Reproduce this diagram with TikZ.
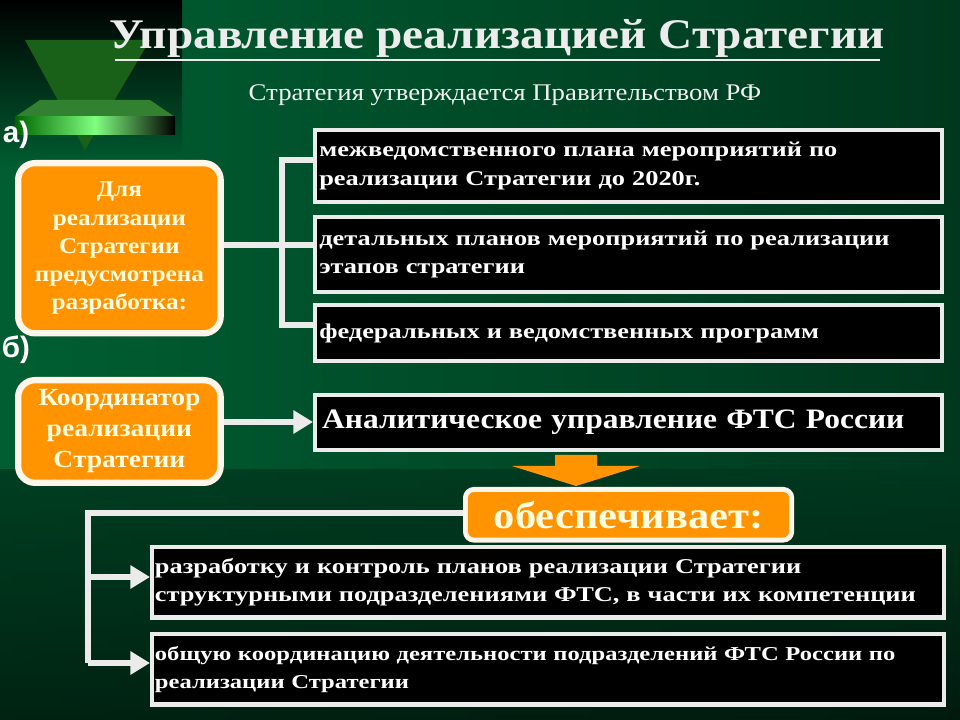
\documentclass[tikz,border=0pt]{standalone}
\usepackage{fontspec}
\usetikzlibrary{arrows.meta}
\setmainfont{Liberation Serif}
\newfontfamily\lsans{Liberation Sans}
\newfontfamily\wideA[FakeStretch=1.25]{Liberation Serif}
\newfontfamily\wideB[FakeStretch=1.12]{Liberation Serif}
\definecolor{bgA}{RGB}{0,95,50}
\definecolor{bgB}{RGB}{0,55,30}
\definecolor{bgC}{RGB}{0,20,10}
\begin{document}
\begin{tikzpicture}[x=0.025cm,y=-0.025cm,
  orbox/.style={draw=white!92!orange,line width=4.5pt,fill=orange!85!yellow,rounded corners=12pt,text=white!88!yellow,font=\wideB\bfseries\fontsize{16}{20}\selectfont,align=center,anchor=north west,inner sep=0pt},
  bkbox/.style={draw=white!92!black,line width=3pt,fill=black,text=white,font=\wideA\bfseries\fontsize{15}{20}\selectfont,align=left,anchor=north west,inner sep=0pt,text width=#1},
  conn/.style={draw=white!92!black,line width=4pt},
  arr/.style={conn,-{Triangle[length=14pt,width=16pt]}}]
\useasboundingbox (0,0) rectangle (960,720);
% background
\shade[left color=bgA,right color=bgB] (0,0) rectangle (960,720);
\shade[top color=black,bottom color=bgA] (0,0) rectangle (182,170);
\shade[top color=bgB,bottom color=bgC,opacity=0.8] (0,470) rectangle (960,720);
% decoration
\fill[green!35!black!80!gray] (25,40) -- (150,40) -- (85,150) -- cycle;
\fill[green!45!gray!70!black] (15,117) -- (175,117) -- (150,100) -- (40,100) -- cycle;
\shade[left color=green!40!black,right color=black,middle color=green!50!white] (15,117) rectangle (175,135);
% title
\node[text=white!85!gray,font=\wideB\bfseries\fontsize{30}{32}\selectfont] (title) at (497,38) {Управление реализацией Стратегии};
\draw[white!85!gray,line width=2pt] (115,60) -- (880,60);
\node[text=white!88!gray,font=\wideB\fontsize{17}{19}\selectfont] (sub) at (505,95) {Стратегия утверждается Правительством РФ};
\node[text=white,font=\lsans\bfseries\fontsize{21}{24}\selectfont] (la) at (16,135) {а)};
\node[text=white,font=\lsans\bfseries\fontsize{21}{24}\selectfont] (lb) at (16,350) {б)};
% orange boxes
\node[orbox,minimum width=144pt,minimum height=121pt] (o1) at (15,160) {Для\\реализации\\Стратегии\\предусмотрена\\разработка:};
\node[orbox,minimum width=144pt,minimum height=73pt,font=\wideB\bfseries\fontsize{17.5}{22}\selectfont] (o2) at (15,377) {Координатор\\реализации\\Стратегии};
% black boxes
\node[bkbox=446pt,minimum height=51pt] (b1) at (313,128) {\hspace{3pt}межведомственного плана мероприятий по\\\hspace{3pt}реализации Стратегии до 2020г.};
\node[bkbox=446pt,minimum height=53pt] (b2) at (313,215) {\hspace{3pt}детальных планов мероприятий по реализации\\\hspace{3pt}этапов стратегии};
\node[bkbox=446pt,minimum height=40pt] (b3) at (313,303) {\hspace{3pt}федеральных и ведомственных программ};
\node[bkbox=446pt,minimum height=39pt,font=\wideB\bfseries\fontsize{20}{22}\selectfont] (b4) at (313,393) {\hspace{5pt}Аналитическое управление ФТС России};
\node[bkbox=563pt,minimum height=50pt] (b5) at (150,545) {\hspace{2pt}разработку и контроль планов реализации Стратегии\\\hspace{2pt}структурными подразделениями ФТС, в части их компетенции};
\node[bkbox=563pt,minimum height=50pt,font=\wideA\bfseries\fontsize{14}{20}\selectfont] (b6) at (150,632) {\hspace{2pt}общую координацию деятельности подразделений ФТС России по\\\hspace{2pt}реализации Стратегии};
% orange arrow
\fill[orange!85!yellow] (555,455) -- (597,455) -- (597,466) -- (640,466) -- (576,486) -- (512,466) -- (555,466) -- cycle;
\node[orbox,rounded corners=6pt,line width=3.5pt,minimum width=232pt,minimum height=36pt,font=\wideB\bfseries\fontsize{27}{29}\selectfont] (ob) at (463,487) {обеспечивает:};
% connectors a)
\coordinate (ja) at (282,245);
\draw[conn] (o1.east |- ja) -- (ja);
\draw[conn] (313,160) -- (282,160) -- (282,325) -- (313,325);
\draw[conn] (ja) -- (b2.west |- ja);
\draw[arr] (o2.east |- 0,422) -- (b4.west |- 0,422);
% connectors bottom
\draw[conn] (ob.west |- 0,513) -- (88,513) -- (88,663);
\draw[arr] (88,577) -- (b5.west |- 0,577);
\draw[arr] (88,663) -- (b6.west |- 0,663);
\end{tikzpicture}
\end{document}
